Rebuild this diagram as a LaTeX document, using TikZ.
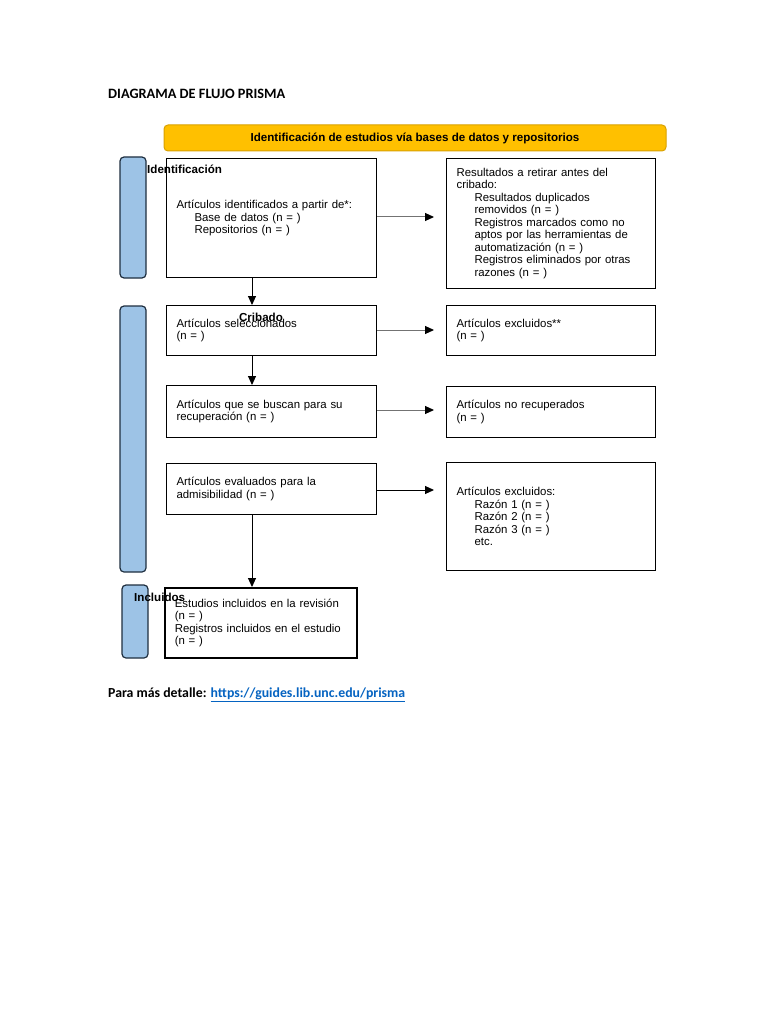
\documentclass[tikz,border=0pt]{standalone}
\usepackage{fontspec}
\setmainfont{Liberation Sans}
\newfontfamily\calfont{Carlito}
\usetikzlibrary{arrows.meta}
\definecolor{bannerfill}{HTML}{FFC000}
\definecolor{bannerdraw}{HTML}{D9A100}
\definecolor{barfill}{HTML}{9DC3E6}
\definecolor{bardraw}{HTML}{1F2F40}
\definecolor{linkblue}{HTML}{0563C1}
\tikzset{
  box/.style={draw=black, line width=1.1pt, anchor=north west, inner xsep=10pt, inner ysep=0pt,
    align=left, font=\fontsize{11.4}{12.5}\selectfont},
  bar/.style={draw=bardraw, fill=barfill, line width=1.2pt, rounded corners=4pt},
  lbl/.style={font=\fontsize{11.6}{12}\selectfont\bfseries, inner sep=0pt},
  flow/.style={draw=black!55, line width=1pt, -{Triangle[length=9pt,width=8pt,black]}},
  down/.style={draw=black, line width=1pt, -{Triangle[length=9pt,width=8pt]}},
}
\newcommand{\ind}{\hspace*{18pt}}
\begin{document}
\begin{tikzpicture}[x=1pt,y=-1pt]
\useasboundingbox (0,0) rectangle (768,1024);
\fill[white] (0,0) rectangle (768,1024);

\node[anchor=base west, inner sep=0pt, font=\calfont\fontsize{14.3}{16}\selectfont\bfseries] (title) at (108,99) {DIAGRAMA DE FLUJO PRISMA};

\draw[fill=bannerfill, draw=bannerdraw, line width=1pt, rounded corners=4pt] (164,125) rectangle (666,151);
\node[lbl] (banner) at (415,138) {Identificación de estudios vía bases de datos y repositorios};

% side bars
\draw[bar] (120,157) rectangle (146,278);
\draw[bar] (120,306) rectangle (146,572);
\draw[bar] (122,585) rectangle (148,658);

% left column
\node[box, minimum width=210pt, minimum height=119pt, text width=190pt] (b1) at (166,158)
 {Artículos identificados a partir de*:\\ \ind Base de datos (n = )\\ \ind Repositorios (n = )};
\node[box, minimum width=210pt, minimum height=50pt, text width=190pt] (b2) at (166,305)
 {Artículos seleccionados\\(n = )};
\node[box, minimum width=210pt, minimum height=52pt, text width=190pt] (b3) at (166,385)
 {Artículos que se buscan para su\\recuperación (n = )};
\node[box, minimum width=210pt, minimum height=51pt, text width=190pt] (b4) at (166,463)
 {Artículos evaluados para la\\admisibilidad (n = )};
\node[box, line width=1.6pt, minimum width=192pt, minimum height=70pt, text width=172pt] (b5) at (164,587)
 {Estudios incluidos en la revisión\\(n = )\\Registros incluidos en el estudio\\(n = )};

% right column
\node[box, minimum width=209pt, minimum height=130pt, text width=189pt] (r1) at (446,158)
 {Resultados a retirar antes del\\cribado:\\ \ind Resultados duplicados\\ \ind removidos (n = )\\ \ind Registros marcados como no\\ \ind aptos por las herramientas de\\ \ind automatización (n = )\\ \ind Registros eliminados por otras\\ \ind razones (n = )};
\node[box, minimum width=209pt, minimum height=50pt, text width=189pt] (r2) at (446,305)
 {Artículos excluidos**\\(n = )};
\node[box, minimum width=209pt, minimum height=51pt, text width=189pt] (r3) at (446,386)
 {Artículos no recuperados\\(n = )};
\node[box, minimum width=209pt, minimum height=108pt, text width=189pt] (r4) at (446,462)
 {Artículos excluidos:\\ \ind Razón 1 (n = )\\ \ind Razón 2 (n = )\\ \ind Razón 3 (n = )\\ \ind etc.};

% stage labels
\node[lbl, anchor=west] (l1) at (147,169) {Identificación};
\node[lbl] (l2) at (261,317) {Cribado};
\node[lbl, anchor=west] (l3) at (134,597) {Incluidos};

% connectors
\coordinate (t1) at ([xshift=-12pt]r1.west |- 0,217);
\draw[flow] (b1.east |- t1) -- (t1);
\coordinate (t2) at ([xshift=-12pt]r2.west |- 0,330);
\draw[flow] (b2.east |- t2) -- (t2);
\coordinate (t3) at ([xshift=-12pt]r3.west |- 0,410);
\draw[flow] (b3.east |- t3) -- (t3);
\coordinate (t4) at ([xshift=-12pt]r4.west |- 0,490);
\draw[down] (b4.east |- t4) -- (t4);

\draw[down] (252,277) -- (b2.north -| 252,0);
\draw[down] (252,355) -- (b3.north -| 252,0);
\draw[down] (b4.south -| 252,0) -- (b5.north -| 252,0);

% footer
\node[anchor=base west, inner sep=0pt, font=\calfont\fontsize{13.8}{15}\selectfont\bfseries] (foot) at (108,697)
 {Para más detalle: \textcolor{linkblue}{\underline{https://guides.lib.unc.edu/prisma}}};
\end{tikzpicture}
\end{document}
